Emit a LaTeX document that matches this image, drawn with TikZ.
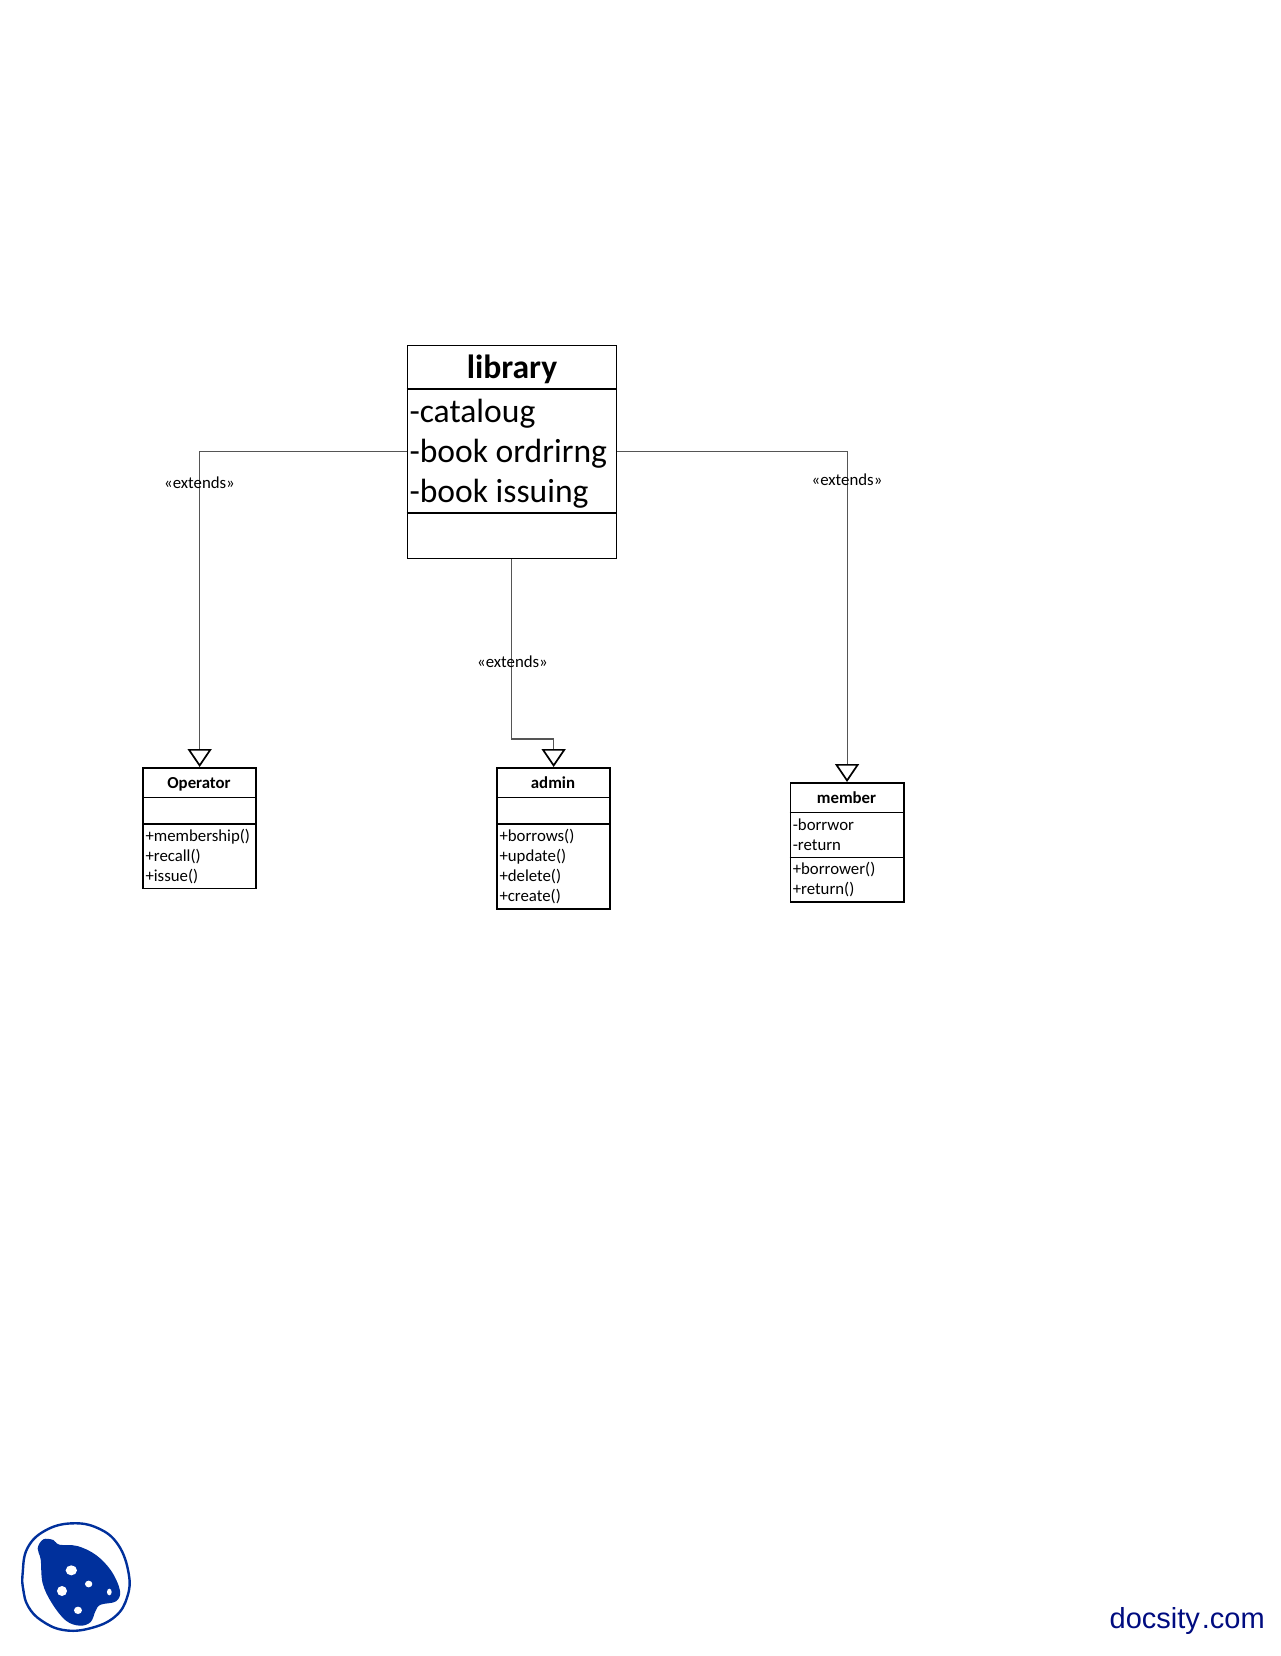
\documentclass[tikz,border=0pt]{standalone}
\usepackage{fontspec}
\setmainfont{Carlito}
\newfontfamily\wmfont{Liberation Sans}
\usetikzlibrary{arrows.meta}
\definecolor{logoblue}{HTML}{00309C}
\definecolor{wmblue}{HTML}{000C80}
\definecolor{connector}{HTML}{555555}
\tikzset{
  classbox/.style={draw=black,line width=1.5pt,fill=none,inner sep=0pt,anchor=north west},
  divider/.style={draw=black,line width=1.5pt},
  txt/.style={anchor=base west,inner sep=0pt,outer sep=0pt,text=black},
  big/.style={txt,font=\fontsize{33.6}{40}\selectfont},
  bigtitle/.style={anchor=base,inner sep=0pt,font=\fontsize{33.6}{40}\selectfont\bfseries},
  small/.style={txt,font=\fontsize{16.8}{20}\selectfont},
  smalltitle/.style={anchor=base,inner sep=0pt,font=\fontsize{16.8}{20}\selectfont\bfseries},
  stereo/.style={inner sep=0pt,font=\fontsize{16.8}{19}\selectfont},
  extends/.style={draw=connector,line width=1.1pt,
    -{Triangle[open,color=black,length=18pt,width=24pt,line width=1.7pt]}},
}
\begin{document}
\begin{tikzpicture}[x=1pt,y=-1pt]
\useasboundingbox[fill=white] (0,0) rectangle (1280,1656);

% library
\node[classbox,minimum width=209pt,minimum height=213pt] (library) at (406.6,344.5) {};
\draw[divider] (406.6,389) -- (615.6,389);
\draw[divider] (406.6,513) -- (615.6,513);
\node[bigtitle] (libname) at (512,378.5) {library};
\node[big] (lib1) at (409.5,422.5) {-cataloug};
\node[big] (lib2) at (409.5,462.5) {-book ordrirng};
\node[big] (lib3) at (409.5,502.5) {-book issuing};

% Operator
\node[classbox,minimum width=113pt,minimum height=120.6pt] (operator) at (142.4,767) {};
\draw[divider] (142.4,797.5) -- (255.4,797.5);
\draw[divider] (142.4,823.8) -- (255.4,823.8);
\node[smalltitle] (opname) at (199,788) {Operator};
\node[small] (op1) at (145.5,841.7) {+membership()};
\node[small] (op2) at (145.5,861.7) {+recall()};
\node[small] (op3) at (145.5,881.7) {+issue()};

% admin
\node[classbox,minimum width=113pt,minimum height=141pt] (admin) at (496.4,767) {};
\draw[divider] (496.4,797.5) -- (609.4,797.5);
\draw[divider] (496.4,823.8) -- (609.4,823.8);
\node[smalltitle] (adname) at (553,788) {admin};
\node[small] (ad1) at (499.5,841.7) {+borrows()};
\node[small] (ad2) at (499.5,861.7) {+update()};
\node[small] (ad3) at (499.5,881.7) {+delete()};
\node[small] (ad4) at (499.5,901.7) {+create()};

% member
\node[classbox,minimum width=113.4pt,minimum height=119.4pt] (member) at (789.6,782) {};
\draw[divider] (789.6,812.7) -- (903,812.7);
\draw[divider] (789.6,857.3) -- (903,857.3);
\node[smalltitle] (memname) at (846.5,803.4) {member};
\node[small] (mem1) at (792.8,830.4) {-borrwor};
\node[small] (mem2) at (792.8,850.4) {-return};
\node[small] (mem3) at (792.8,874.8) {+borrower()};
\node[small] (mem4) at (792.8,894.6) {+return()};

% connectors
\coordinate (elbowa) at (library.south |- 0,739);
\coordinate (elbowb) at (admin.north |- 0,739);
\draw[extends] (library.west) -| (operator.north);
\draw[extends] (library.east) -| (member.north);
\draw[extends] (library.south) -- (elbowa) -- (elbowb) -- (admin.north);

% stereotypes
\node[stereo] (ext1) at (199.5,483) {«extends»};
\node[stereo] (ext2) at (512.5,661.5) {«extends»};
\node[stereo] (ext3) at (847,480) {«extends»};

% watermark logo
\begin{scope}[x=0.3333pt,y=-0.3333pt,yshift=-1500pt]
  \draw[logoblue,line width=2.4pt] plot[smooth cycle,tension=0.7] coordinates
    {(68,220) (82,145) (135,92) (215,70) (295,85) (355,135) (386,220) (382,290) (345,350) (270,385) (190,390) (125,362) (85,320) (70,270)};
  \fill[logoblue] plot[smooth cycle,tension=0.6] coordinates
    {(113,145) (130,118) (160,120) (178,134) (232,138) (288,165) (334,213) (360,272) (348,304) (302,314) (287,332) (272,366) (240,377) (198,362) (156,310) (128,250) (122,178)};
  \fill[white] (214,211) ellipse [x radius=17,y radius=15];
  \fill[white] (186,273) ellipse [x radius=15,y radius=15];
  \fill[white] (266,252) ellipse [x radius=11,y radius=10];
  \fill[white] (234,331) ellipse [x radius=12,y radius=11];
  \fill[white] (328,276) ellipse [x radius=7,y radius=10];
\end{scope}
\node[anchor=base east,inner sep=0pt,text=wmblue,font=\wmfont\fontsize{29}{34}\selectfont] (wm) at (1265,1628.5) {docsity\kern2pt.com};
\end{tikzpicture}
\end{document}
